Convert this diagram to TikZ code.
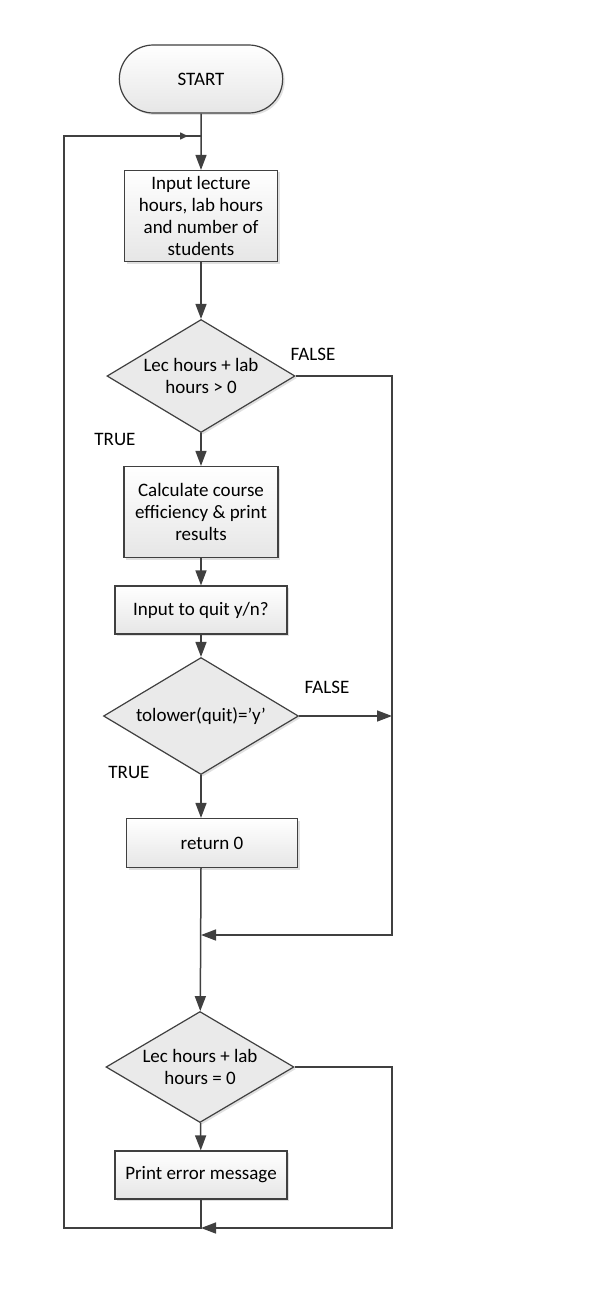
\documentclass[tikz,border=0pt]{standalone}
\usepackage{fontspec}
\setmainfont{Carlito}
\usepackage{tikz}
\usetikzlibrary{shapes.geometric,shapes.misc,arrows.meta,shadows}

\definecolor{ln}{HTML}{404040}
\definecolor{dfill}{HTML}{EAEAEA}
\definecolor{bfill}{HTML}{E6E6E6}

\begin{document}
\begin{tikzpicture}[x=1pt, y=-1pt,
                    font=\fontsize{19}{21.7}\selectfont,
                    shd/.style={drop shadow={shadow xshift=2pt,shadow yshift=-2pt,
                                opacity=0.12,fill=black}},
                    term/.style 2 args={rounded rectangle,draw=ln,line width=1.2pt,
                                top color=white,bottom color=bfill,
                                minimum width=#1,minimum height=#2,shd},
                    proc/.style 2 args={rectangle,draw=ln,line width=1.2pt,
                                top color=white,bottom color=bfill,
                                minimum width=#1,minimum height=#2,
                                inner sep=0pt,align=center,shd},
                    dec/.style n args={3}{diamond,draw=ln,line width=1.2pt,fill=dfill,
                                minimum width=#1,minimum height=#2,shape aspect=#3,
                                inner sep=0pt,align=center,shd},
                    wire/.style={ln,line width=1.5pt},
                    flow/.style={wire,-{Triangle[length=15pt,width=11pt]}},
                    tip/.style={wire,-{Triangle[length=8pt,width=7pt]}},
                    lbl/.style={inner sep=0pt}]
    \useasboundingbox (0,0) rectangle (596,1316);

    \node[term={170pt}{68pt}](start) at (201,79) {START};
    \node[proc={153pt}{91pt}](input) at (201,216) {Input lecture\\hours, lab hours\\and number of\\students};
    \node[dec={188pt}{113pt}{1.66}](chk) at (201,376) {Lec hours + lab\\hours > 0};
    \node[proc={154pt}{91pt}](calc) at (201,512) {Calculate course\\efficiency \& print\\results};
    \node[proc={172pt}{48pt}](ask) at (201,610) {Input to quit y/n?};
    \node[dec={195pt}{117pt}{1.67}](quit) at (201,716) {tolower(quit)=’y’};
    \node[proc={171pt}{49pt}](ret) at (212,843) {return 0};
    \node[dec={188pt}{111pt}{1.69}](zero) at (200,1067) {Lec hours + lab\\hours = 0};
    \node[proc={172pt}{48pt}](err) at (201,1175) {Print error message};

    \node[lbl](f1) at (313,354) {FALSE};
    \node[lbl](t1) at (115,439) {TRUE};
    \node[lbl](f2) at (327,687) {FALSE};
    \node[lbl](t2) at (129,772) {TRUE};

    \coordinate (join) at (201,136);
    \coordinate (mrg) at (201,935);
    \coordinate (btm) at (201,1228);
    \coordinate (lft) at (64,1228);
    \coordinate (rx) at (392,0);

    % main column
    \draw[flow] (start) -- (input);
    \draw[flow] (input) -- (chk);
    \draw[flow] (chk) -- (calc);
    \draw[flow] (calc) -- (ask);
    \draw[flow] (ask) -- (quit);
    \draw[flow] (quit) -- (quit.south |- ret.north);
    \draw[flow] (ret.south -| quit.south) -- (zero);
    \draw[flow] (zero) -- (err);

    % FALSE branches
    \draw[flow] (chk.east) -| (mrg -| rx) -- (mrg);
    \draw[flow] (quit.east) -- (quit.east -| rx);
    \draw[flow] (zero.east) -| (btm -| rx) -- (btm);

    % back to the input
    \draw[wire] (err) -- (btm) -- (lft) |- (join);
    \draw[tip] (lft |- join) -- ([xshift=-13pt]join);
\end{tikzpicture}
\end{document}
